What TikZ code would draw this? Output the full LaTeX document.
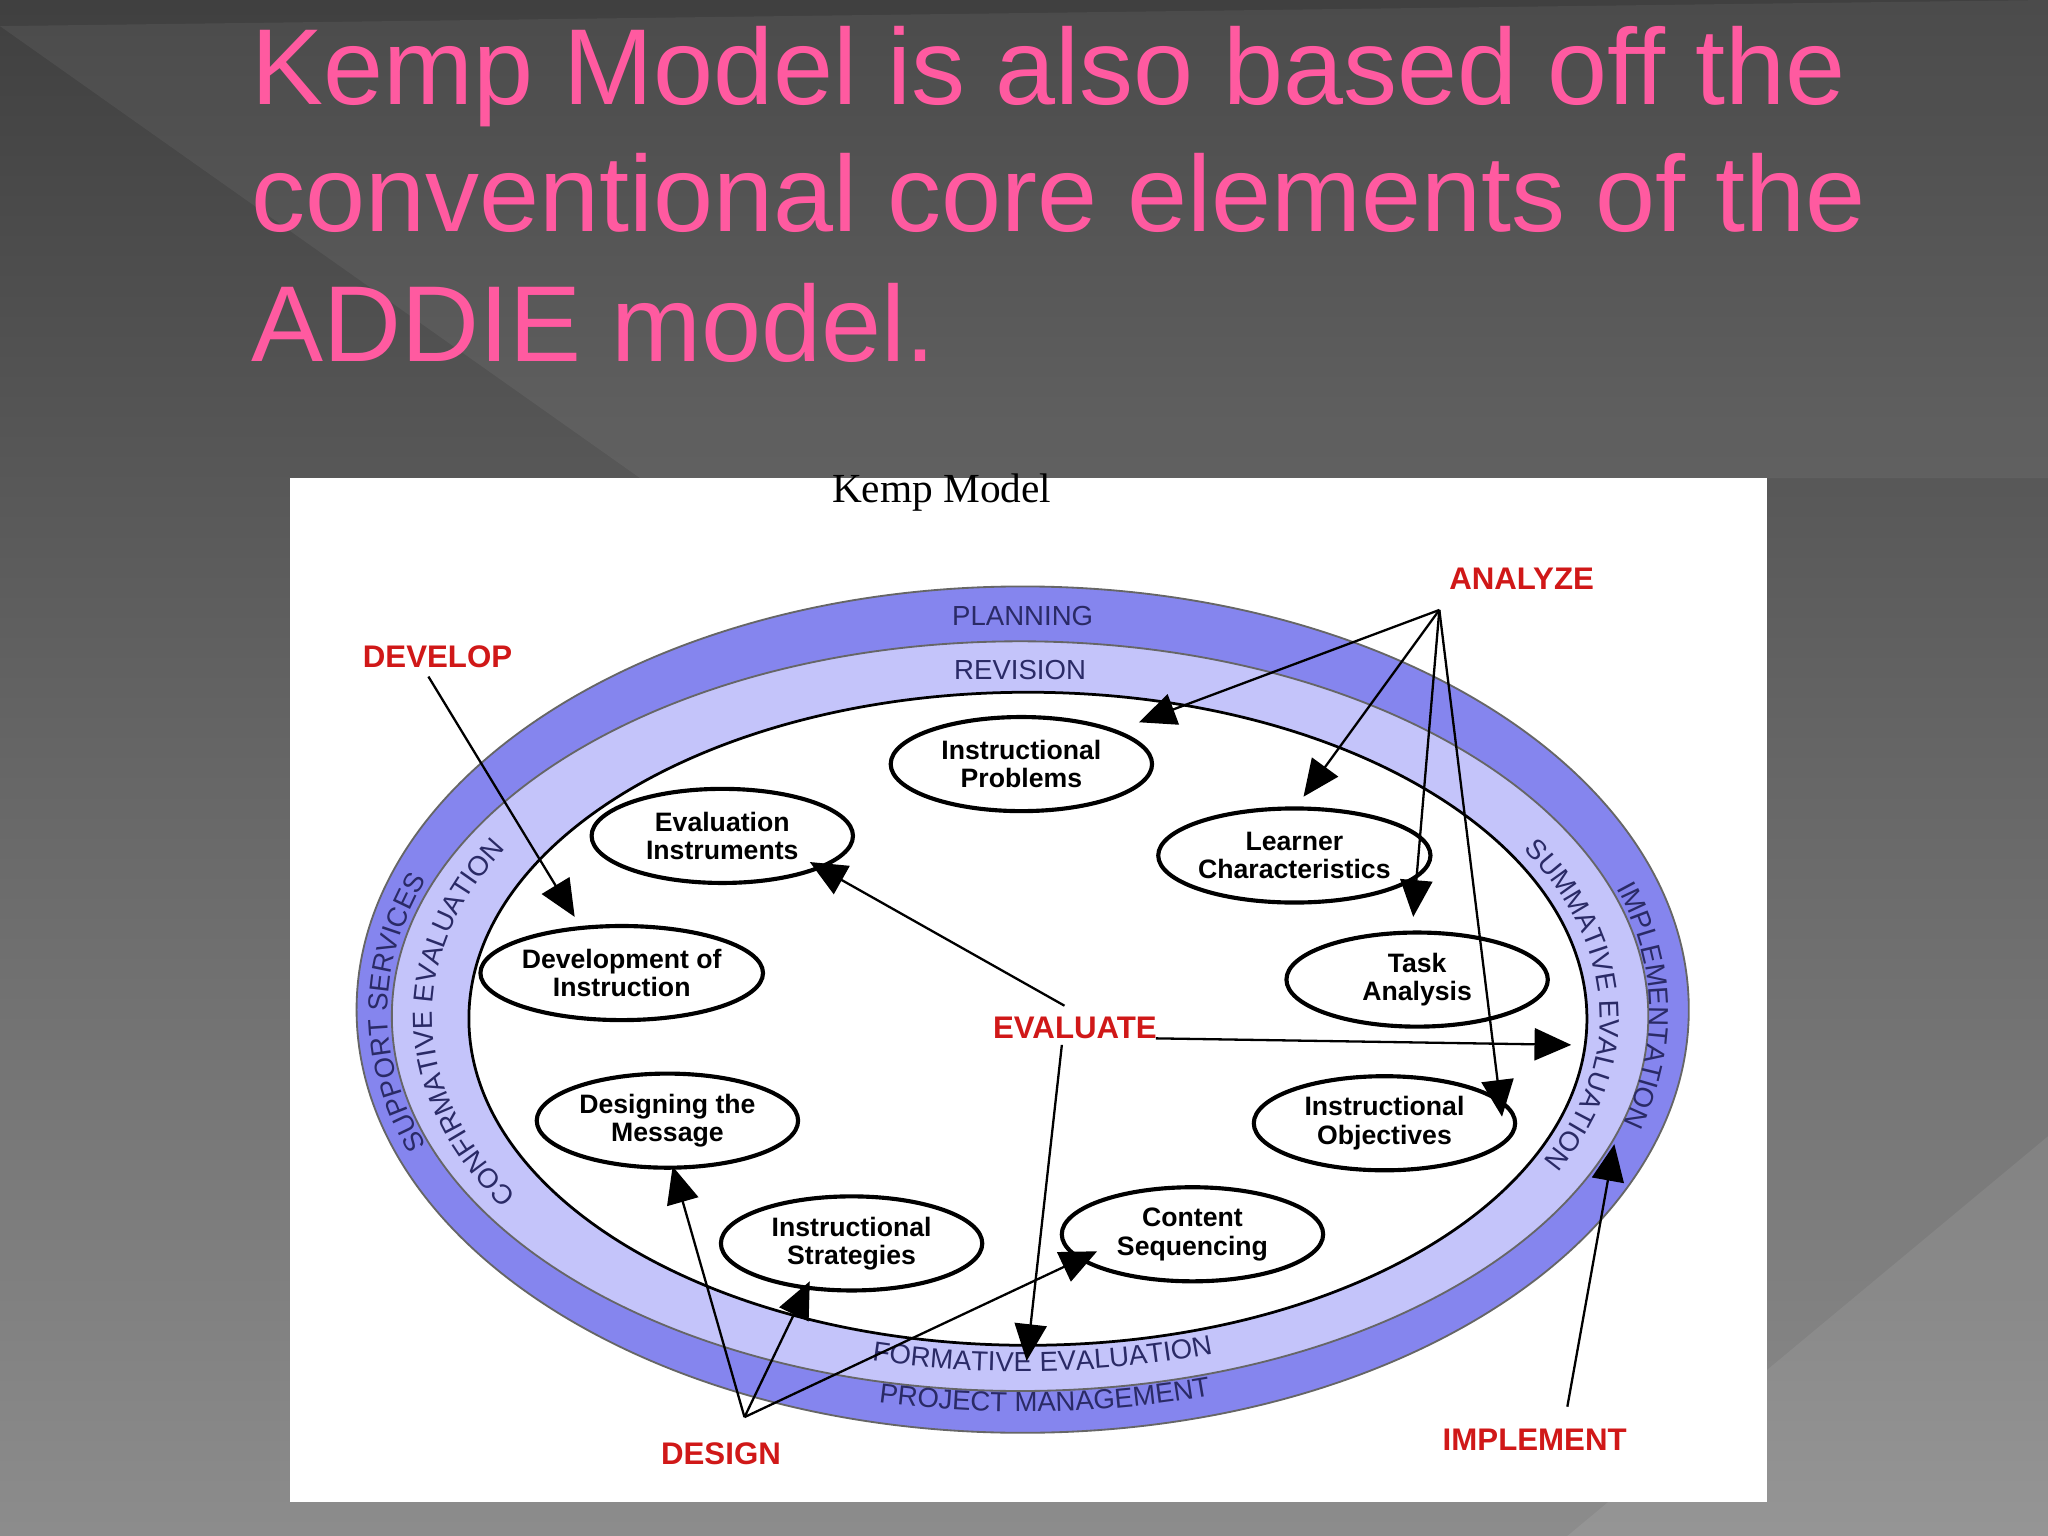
\documentclass[tikz,border=0pt]{standalone}
\usepackage{fontspec}
\setmainfont{Liberation Sans}
\newfontfamily\serifl{Liberation Serif}
\usetikzlibrary{decorations.text,arrows.meta,shapes.geometric}
\definecolor{pinkt}{HTML}{FF5AA0}
\definecolor{outerb}{HTML}{8585EE}
\definecolor{midb}{HTML}{C4C4FA}
\definecolor{redl}{HTML}{D01818}
\definecolor{bandt}{HTML}{2A2A66}
\begin{document}
\begin{tikzpicture}[x=0.01cm,y=-0.01cm,
  box/.style={draw=black,line width=0.9pt,ellipse,fill=white,minimum width=2cm,minimum height=0.72cm,inner sep=0pt,align=center,font=\fontsize{5.8}{6.2}\selectfont\bfseries},
  lab/.style={font=\fontsize{6.8}{7}\selectfont\bfseries,text=redl,inner sep=1pt},
  arr/.style={-{Triangle[length=8pt,width=7pt]},line width=0.5pt,black},
  band/.style={font=\fontsize{6}{7}\selectfont,text=bandt}]
\useasboundingbox (0,0) rectangle (1568,1176);
\shade[top color=black!75,bottom color=black!45] (0,0) rectangle (1568,1176);
\fill[white,opacity=0.06] (0,20) -- (490,366) -- (1568,366) -- (1568,0) -- cycle;
\fill[white,opacity=0.08] (1200,1176) -- (1568,870) -- (1568,1176) -- cycle;
\node[anchor=base west,text=pinkt,font=\fontsize{23.5}{27}\selectfont,inner sep=0] (h1) at (192,80) {Kemp Model is also based off the};
\node[anchor=base west,text=pinkt,font=\fontsize{23.5}{27}\selectfont,inner sep=0] (h2) at (192,177) {conventional core elements of the};
\node[anchor=base west,text=pinkt,font=\fontsize{23.5}{27}\selectfont,inner sep=0] (h3) at (192,277) {ADDIE model.};
\fill[white] (222,366) rectangle (1353,1150);
\node[font=\serifl\fontsize{9}{10}\selectfont,inner sep=0] (title) at (721,377) {Kemp Model};
% bands
\fill[outerb] (783,773) ellipse [x radius=510,y radius=324];
\draw[black!60,line width=0.4pt] (783,773) ellipse [x radius=510,y radius=324];
\fill[midb] (781,778) ellipse [x radius=481,y radius=287];
\draw[black!60,line width=0.4pt] (781,778) ellipse [x radius=481,y radius=287];
\fill[white] (787,780) ellipse [x radius=428,y radius=250];
\draw[black,line width=0.6pt] (787,780) ellipse [x radius=428,y radius=250];
\node[band] (plan) at (783,472) {PLANNING};
\node[band] (rev) at (781,513) {REVISION};
\path[decorate,decoration={text along path,text align=center,text={|\fontsize{6}{7}\selectfont\color{bandt}|SUPPORT SERVICES}}]
  (783,775) ++(-203:{486 and 296}) arc[start angle=-203,end angle=-157,x radius=486,y radius=296];
\path[decorate,decoration={text along path,text align=center,text={|\fontsize{6}{7}\selectfont\color{bandt}|CONFIRMATIVE EVALUATION}}]
  (783,778) ++(-216:{452 and 266}) arc[start angle=-216,end angle=-146,x radius=452,y radius=266];
\path[decorate,decoration={text along path,text align=center,text={|\fontsize{6}{7}\selectfont\color{bandt}|SUMMATIVE EVALUATION}}]
  (783,778) ++(-34:{442 and 256}) arc[start angle=-34,end angle=30,x radius=442,y radius=256];
\path[decorate,decoration={text along path,text align=center,text={|\fontsize{6}{7}\selectfont\color{bandt}|IMPLEMENTATION}}]
  (783,775) ++(-22:{480 and 296}) arc[start angle=-22,end angle=20,x radius=480,y radius=296];
\path[decorate,decoration={text along path,text align=center,text={|\fontsize{6}{7}\selectfont\color{bandt}|FORMATIVE EVALUATION}}]
  (783,778) ++(-250:{466 and 272}) arc[start angle=-250,end angle=-294,x radius=466,y radius=272];
\path[decorate,decoration={text along path,text align=center,text={|\fontsize{6}{7}\selectfont\color{bandt}|PROJECT MANAGEMENT}}]
  (783,773) ++(-253:{512 and 308}) arc[start angle=-253,end angle=-291,x radius=512,y radius=308];
% nodes
\node[box] (ip) at (782,585) {Instructional\\Problems};
\node[box] (ei) at (553,640) {Evaluation\\Instruments};
\node[box] (lc) at (991,655) {Learner\\Characteristics};
\node[box] (di) at (476,745) {Development of\\Instruction};
\node[box] (ta) at (1085,750) {Task\\Analysis};
\node[box] (dm) at (511,858) {Designing the\\Message};
\node[box] (io) at (1060,860) {Instructional\\Objectives};
\node[box] (is) at (652,952) {Instructional\\Strategies};
\node[box] (cs) at (913,945) {Content\\Sequencing};
% labels
\node[lab] (an) at (1165,443) {ANALYZE};
\node[lab] (dv) at (335,503) {DEVELOP};
\node[lab] (ev) at (823,787) {EVALUATE};
\node[lab] (ds) at (552,1113) {DESIGN};
\node[lab] (im) at (1175,1102) {IMPLEMENT};
\coordinate (a0) at (1102,467);
\coordinate (a1) at (872,553);
\coordinate (a2) at (998,610);
\coordinate (a3) at (1082,702);
\coordinate (a4) at (1150,855);
\coordinate (d0) at (328,518);
\coordinate (d1) at (440,702);
\coordinate (e0) at (815,770);
\coordinate (e1) at (620,660);
\coordinate (e2) at (813,800);
\coordinate (e3) at (786,1042);
\coordinate (e4) at (885,795);
\coordinate (e5) at (1203,800);
\coordinate (s0) at (570,1085);
\coordinate (s1) at (515,893);
\coordinate (s2) at (620,981);
\coordinate (s3) at (840,958);
\coordinate (m0) at (1200,1077);
\coordinate (m1) at (1236,876);
\foreach \t in {a1,a2,a3,a4} \draw[arr] (a0) -- (\t);
\draw[arr] (d0) -- (d1);
\draw[arr] (e0) -- (e1);
\draw[arr] (e2) -- (e3);
\draw[arr] (e4) -- (e5);
\foreach \t in {s1,s2,s3} \draw[arr] (s0) -- (\t);
\draw[arr] (m0) -- (m1);
\end{tikzpicture}
\end{document}
